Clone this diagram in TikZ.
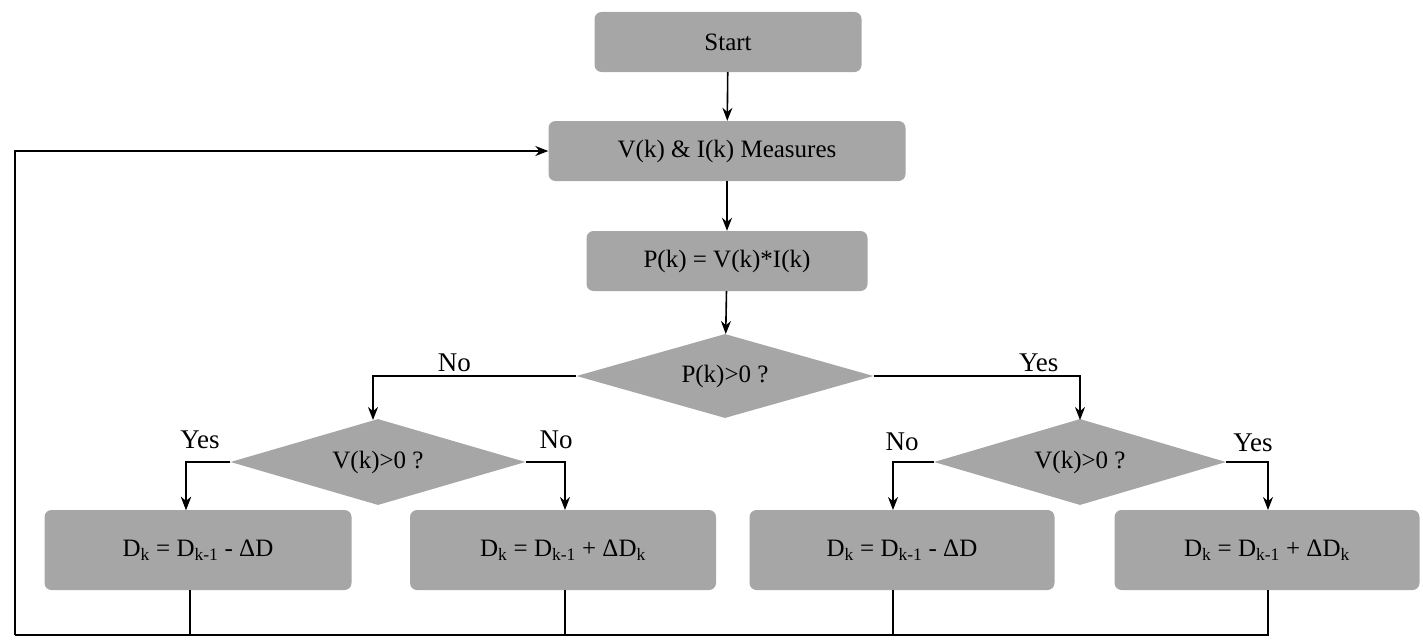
\documentclass[tikz,border=0pt]{standalone}
\usepackage{fontspec}
\setmainfont{Liberation Serif}
\usetikzlibrary{shapes.geometric,arrows.meta}
\begin{document}
\begin{tikzpicture}[x=1pt,y=-1pt,
  box/.style={fill=black!35,rounded corners=7pt,minimum height=60pt,inner sep=0pt},
  dia/.style={diamond,fill=black!35,aspect=3.5,inner sep=0pt},
  txt/.style={font=\fontsize{25}{30}\selectfont},
  lbl/.style={font=\fontsize{27}{32}\selectfont},
  ln/.style={line width=1.6pt},
  ar/.style={ln,-{Stealth[length=13pt,width=10pt]}}]
\useasboundingbox (0,0) rectangle (1423,642);
\node[box,txt,minimum width=267pt] (start) at (728,42) {Start};
\node[box,txt,minimum width=357pt] (meas) at (727,151) {V(k) \& I(k) Measures};
\node[box,txt,minimum width=281pt] (pk) at (727,261) {P(k) = V(k)*I(k)};
\node[dia,txt,minimum width=297pt,minimum height=84pt] (d0) at (725,376) {P(k)>0 ?};
\node[dia,txt,minimum width=295pt,minimum height=86pt] (d1) at (378,462) {V(k)>0 ?};
\node[dia,txt,minimum width=292pt,minimum height=86pt] (d2) at (1080,462) {V(k)>0 ?};
\node[box,txt,minimum width=307pt,minimum height=80pt] (b1) at (198,550) {D\textsubscript{k} = D\textsubscript{k-1} - ΔD};
\node[box,txt,minimum width=306pt,minimum height=80pt] (b2) at (563,550) {D\textsubscript{k} = D\textsubscript{k-1} + ΔD\textsubscript{k}};
\node[box,txt,minimum width=305pt,minimum height=80pt] (b3) at (902,550) {D\textsubscript{k} = D\textsubscript{k-1} - ΔD};
\node[box,txt,minimum width=305pt,minimum height=80pt] (b4) at (1267,550) {D\textsubscript{k} = D\textsubscript{k-1} + ΔD\textsubscript{k}};
\draw[ar] (start) -- (meas);
\draw[ar] (meas) -- (pk);
\draw[ar] (pk) -- (d0);
\draw[ar] (d0.west) -| (373,420) node[pos=0.3,above,lbl]{No};
\draw[ar] (d0.east) -| (1080,420) node[pos=0.4,above,lbl]{Yes};
\draw[ar] (d1.west) -| (b1.north -| 186,0) node[pos=0.5,above,lbl,xshift=8pt]{};
\draw[ar] (d1.west) -| (186,510);
\node[lbl] (y1) at (200,440) {Yes};
\draw[ar] (d1.east) -| (565,510);
\node[lbl] (n1) at (556,440) {No};
\draw[ar] (d2.west) -| (893,510);
\node[lbl] (n2) at (902,442) {No};
\draw[ar] (d2.east) -| (1268,510);
\node[lbl] (y2) at (1253,443) {Yes};
\coordinate (c1) at (15,635);
\draw[ln] (b1.south -| 190,0) |- (c1);
\draw[ln] (565,590) -- (565,635);
\draw[ln] (893,590) -- (893,635);
\draw[ln] (1268,590) -- (1268,635) -- (c1);
\draw[ar] (c1) |- (meas.west);
\end{tikzpicture}
\end{document}
